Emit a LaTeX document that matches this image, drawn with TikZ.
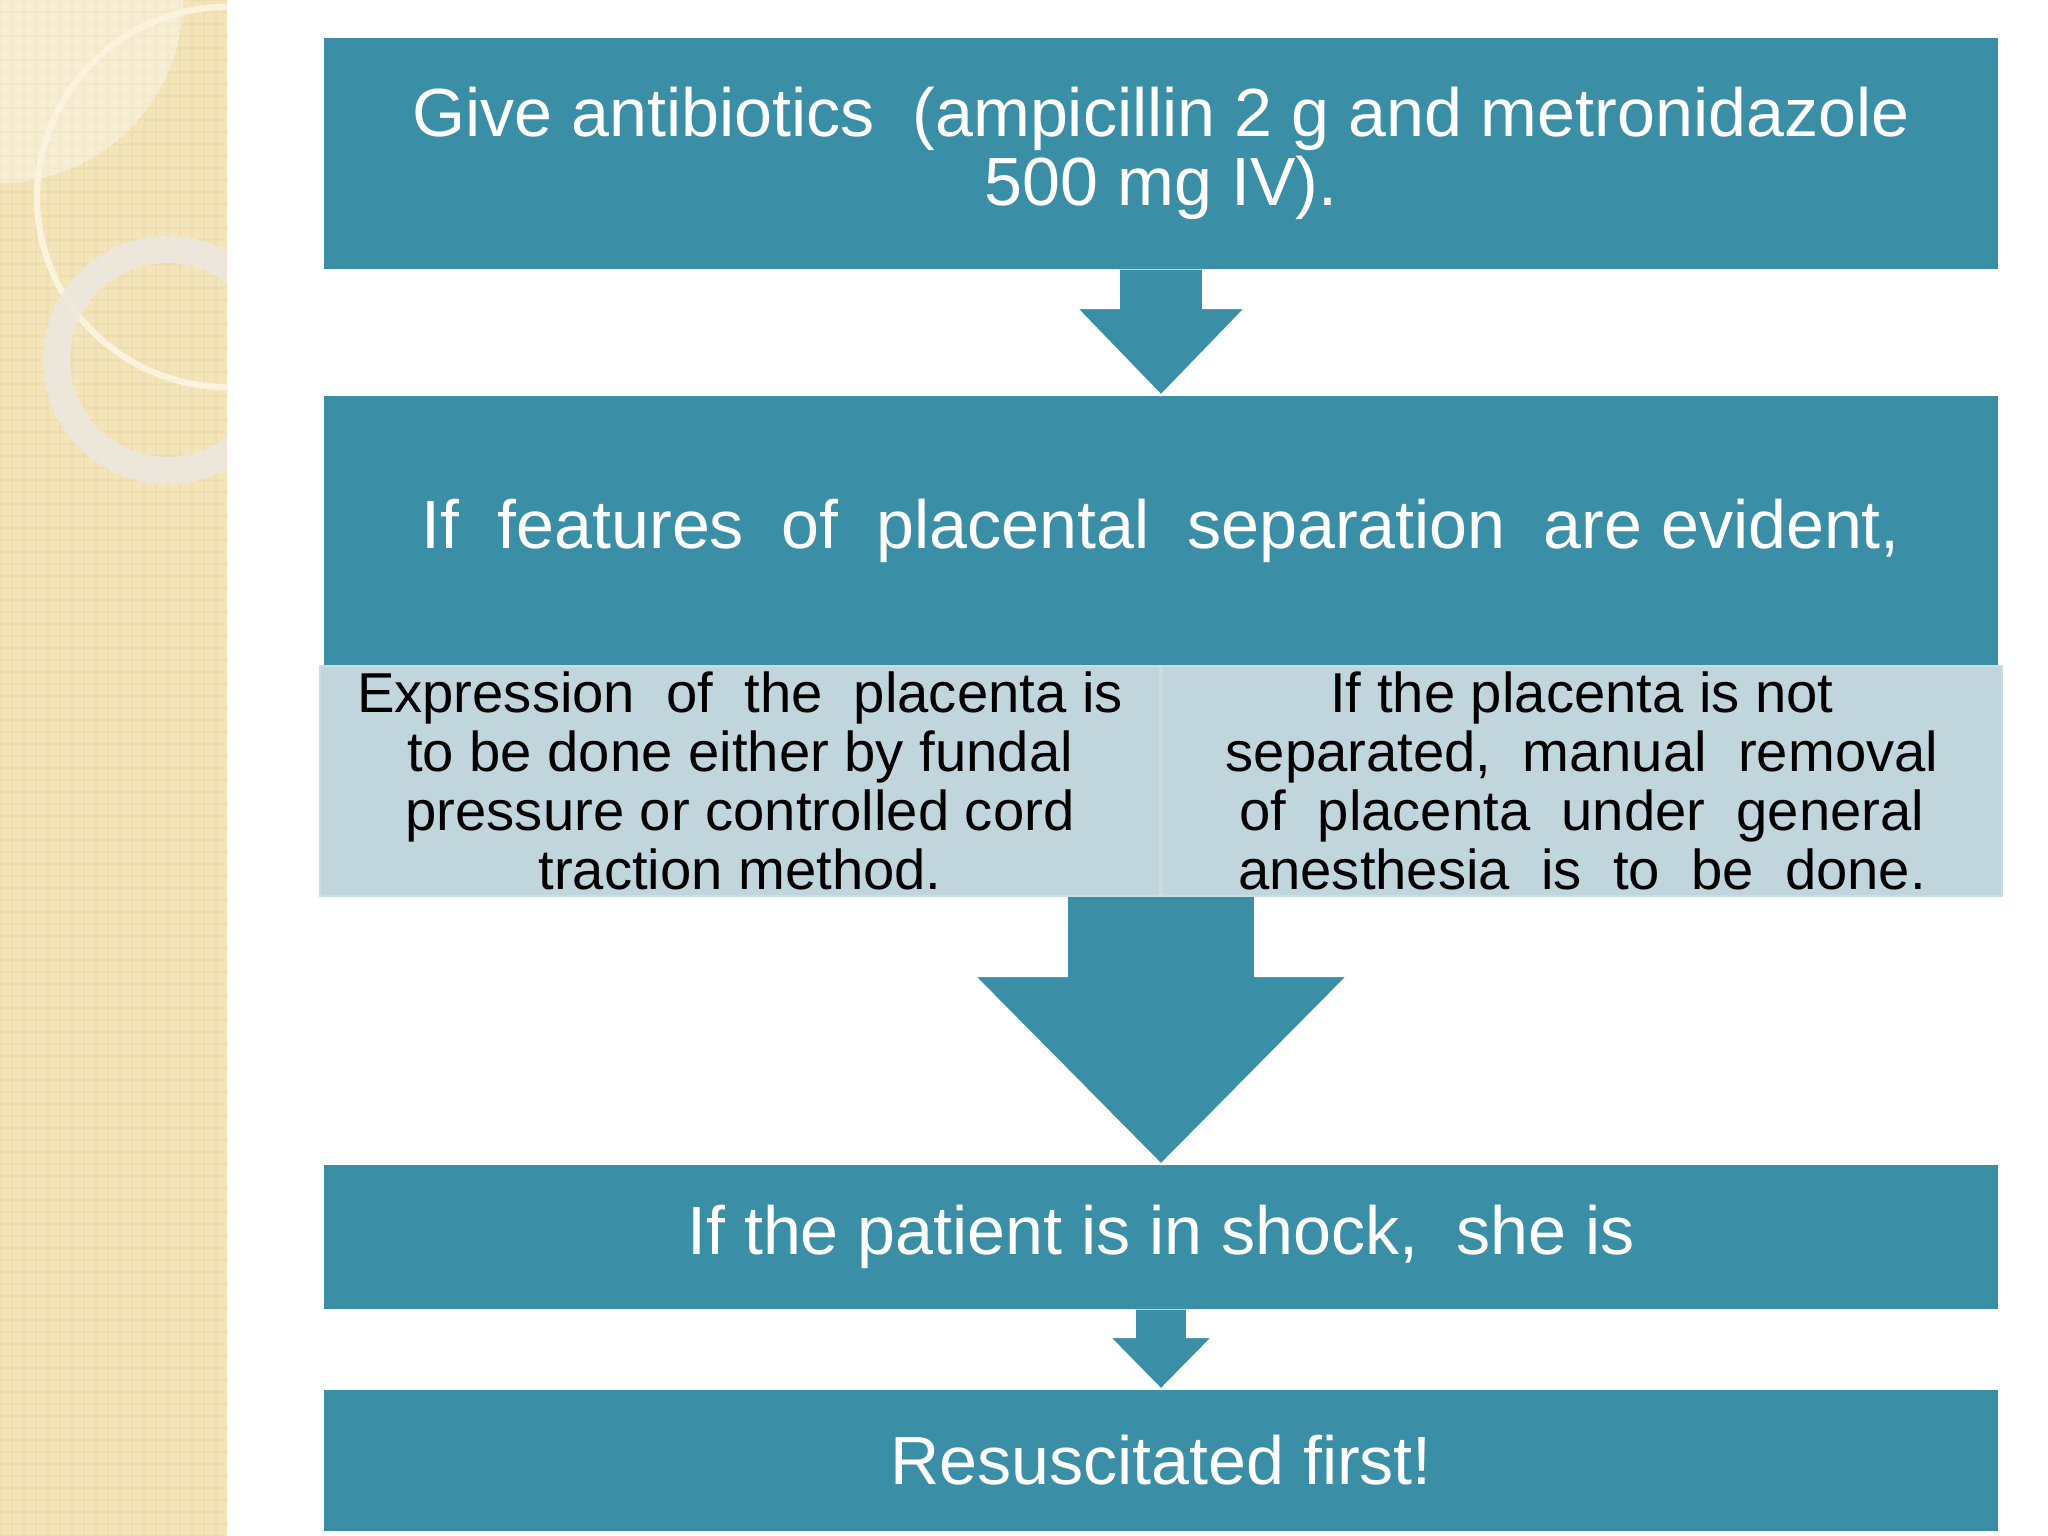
\documentclass[tikz,border=0pt]{standalone}
\usepackage{fontspec}
\setmainfont{Liberation Sans}
\usetikzlibrary{positioning,calc}
\definecolor{teal}{HTML}{3A8FA7}
\definecolor{mist}{HTML}{C1D5DC}
\definecolor{mistedge}{HTML}{CCDDE2}
\definecolor{sand}{HTML}{F3E4BA}
\definecolor{sandgrid}{HTML}{EEDDAE}
\definecolor{cream}{HTML}{FBF3DD}
\definecolor{pearl}{HTML}{ECE8DE}
% block arrow: start, tip, shaft half width, head half width, head length
\newcommand{\flowarrow}[5]{%
  \fill[arrowfill] ($#1+(-#3,0)$) -- ($#2+(-#3,#5)$) -- ($#2+(-#4,#5)$) -- #2
    -- ($#2+(#4,#5)$) -- ($#2+(#3,#5)$) -- ($#1+(#3,0)$) -- cycle;
  \draw[arrowedge] ($#1+(-#3,0)$) -- ($#2+(-#3,#5)$) -- ($#2+(-#4,#5)$) -- #2
    -- ($#2+(#4,#5)$) -- ($#2+(#3,#5)$) -- ($#1+(#3,0)$);
}
\begin{document}
\begin{tikzpicture}[
  stepbox/.style={fill=teal, text=white, align=center, minimum width=16.74cm, inner sep=0pt,
    font=\fontsize{19.4}{19.8}\selectfont},
  optbox/.style={fill=mist, draw=mistedge, line width=0.6pt, text=black, align=center,
    minimum width=8.40cm, minimum height=2.30cm, inner sep=0pt, font=\fontsize{16}{16.8}\selectfont},
  arrowfill/.style={fill=teal},
  arrowedge/.style={draw=white, line width=0.5pt, line join=miter}]
  \useasboundingbox (0,0) rectangle (20.48,-15.36);
  \fill[white] (0,0) rectangle (20.48,-15.36);
  % decorated side strip
  \begin{scope}
    \clip (0,0) rectangle (2.27,-15.36);
    \fill[sand] (0,0) rectangle (2.27,-15.36);
    \draw[sandgrid, line width=0.8pt, step=0.12] (0,0) grid (2.27,-15.36);
    \fill[white, opacity=0.35] (0,0) -- (1.83,0) arc (0:-90:1.83) -- cycle;
    \draw[cream, line width=1.8pt] (2.27,-1.97) circle (1.90);
    \fill[pearl, opacity=0.9, even odd rule] (1.67,-3.60) circle (1.24) (1.67,-3.60) circle (0.97);
  \end{scope}
  % flow boxes
  \node[stepbox, minimum height=2.31cm] (antibiotics) at (11.61,-1.535)
    {Give antibiotics\ \ (ampicillin 2 g and metronidazole\\500 mg IV).};
  \node[stepbox, minimum height=2.70cm] (separation) at (11.61,-5.31)
    {If\ \ features\ \ of\ \ placental\ \ separation\ \ are evident,};
  \node[optbox] (expression) at (7.40,-7.81)
    {Expression\ \ of\ \ the\ \ placenta is\\to be done either by fundal\\pressure or controlled cord\\traction method.};
  \node[optbox] (manual) at (15.82,-7.81)
    {If the placenta is not\\separated,\ \ manual\ \ removal\\of\ \ placenta\ \ under\ \ general\\anesthesia\ \ is\ \ to\ \ be\ \ done.};
  \node[stepbox, minimum height=1.44cm] (shock) at (11.61,-12.37)
    {If the patient is in shock,\ \ she is};
  \node[stepbox, minimum height=1.41cm] (resus) at (11.61,-14.605)
    {Resuscitated first!};
  % connectors
  \flowarrow{(antibiotics.south)}{(separation.north)}{0.42}{0.84}{0.87}
  \flowarrow{($(expression.south east)!0.5!(manual.south west)$)}{(shock.north)}{0.94}{1.86}{1.88}
  \flowarrow{(shock.south)}{(resus.north)}{0.26}{0.51}{0.52}
\end{tikzpicture}
\end{document}
